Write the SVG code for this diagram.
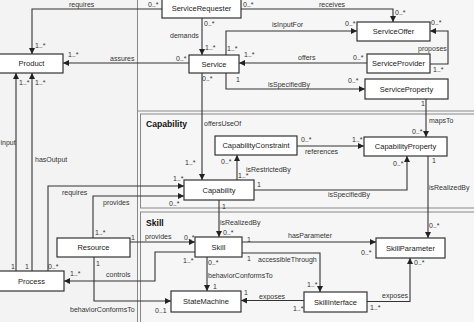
<svg xmlns="http://www.w3.org/2000/svg" width="474" height="322" viewBox="0 0 474 322">
<defs>
<marker id="a" viewBox="0 0 10 10" refX="10" refY="5" markerWidth="6" markerHeight="6" markerUnits="userSpaceOnUse" orient="auto"><path d="M0,0 L10,5 L0,10 z" fill="#222"/></marker>
<style>
.n rect{fill:#fff;stroke:#333;stroke-width:1.2}
.n text{font-family:"Liberation Sans",Arial,sans-serif;font-size:7.5px;fill:#222;text-anchor:middle}
#connectors path{fill:none;stroke:#333;stroke-width:1.1;marker-end:url(#a)}
.l{font-family:"Liberation Sans",Arial,sans-serif;font-size:7px;fill:#333}
.p{fill:#f6f6f6;stroke:#888;stroke-width:1}
.h{font-family:"Liberation Sans",Arial,sans-serif;font-size:8.6px;font-weight:bold;fill:#111}
</style>
</defs>
<rect x="0" y="0" width="474" height="322" fill="#f3f3f3"/>
<g id="panels">
<rect class="p" x="137.5" y="-2" width="340" height="330"/>
<line x1="137.5" y1="111" x2="474" y2="111" stroke="#888"/>
<rect class="p" x="140.5" y="114" width="340" height="94"/>
<rect class="p" x="140.5" y="212" width="340" height="120"/>
<text class="h" x="146" y="127">Capability</text>
<text class="h" x="146" y="226">Skill</text>
</g>
<g id="connectors">
<path d="M162,9 H32 V54"/>
<path d="M241,9 H393 V22"/>
<path d="M202,18 V55"/>
<path d="M189,63 H63"/>
<path d="M226,55 V31 H357"/>
<path d="M367,63 H239"/>
<path d="M430,64 H448 V31 H430"/>
<path d="M226,73 V89 H365"/>
<path d="M426,99 V137"/>
<path d="M202,73 V180"/>
<path d="M297,146 H364"/>
<path d="M237,180 V155"/>
<path d="M254,190 H407 V156"/>
<path d="M428,156 V238"/>
<path d="M219,200 V237"/>
<path d="M48,271 V186 H184"/>
<path d="M93,238 V196 H184"/>
<path d="M16,271 V73"/>
<path d="M32,271 V73"/>
<path d="M130,242 H195"/>
<path d="M195,252 H155 V281 H64"/>
<path d="M94,257 V301 H171"/>
<path d="M207,257 V291"/>
<path d="M242,242 H376"/>
<path d="M242,253 H320 V292"/>
<path d="M304,300.5 H241"/>
<path d="M367,301.5 H410 V258"/>
</g>
<g id="labels">
<text class="l" x="69" y="6.5">requires</text>
<text class="l" x="148" y="6.5">0..*</text>
<text class="l" x="35" y="48">1..*</text>
<text class="l" x="319" y="6.5">receives</text>
<text class="l" x="243" y="6.5">0..*</text>
<text class="l" x="395" y="15">0..*</text>
<text class="l" x="170" y="38">demands</text>
<text class="l" x="204" y="26">0..*</text>
<text class="l" x="205" y="50">1..*</text>
<text class="l" x="110" y="61">assures</text>
<text class="l" x="176" y="61">0..*</text>
<text class="l" x="68" y="57">1..*</text>
<text class="l" x="272" y="27">isInputFor</text>
<text class="l" x="227" y="51">1..*</text>
<text class="l" x="345" y="26">0..*</text>
<text class="l" x="298" y="60">offers</text>
<text class="l" x="244" y="57">1..*</text>
<text class="l" x="353" y="60">0..*</text>
<text class="l" x="418" y="51">proposes</text>
<text class="l" x="431" y="25">0..*</text>
<text class="l" x="433" y="72">1..*</text>
<text class="l" x="268" y="86.5">isSpecifiedBy</text>
<text class="l" x="236" y="82">1</text>
<text class="l" x="348" y="83">0..*</text>
<text class="l" x="421" y="106">1</text>
<text class="l" x="429" y="123">mapsTo</text>
<text class="l" x="412" y="134">0..*</text>
<text class="l" x="204" y="126">offersUseOf</text>
<text class="l" x="202" y="81">0..*</text>
<text class="l" x="185" y="165">1..*</text>
<text class="l" x="305" y="153.5">references</text>
<text class="l" x="301" y="142">0..*</text>
<text class="l" x="352" y="142">1..*</text>
<text class="l" x="246" y="172">isRestrictedBy</text>
<text class="l" x="221" y="164">0..*</text>
<text class="l" x="238" y="178">1..*</text>
<text class="l" x="328" y="197">isSpecifiedBy</text>
<text class="l" x="257" y="187">1</text>
<text class="l" x="393" y="166">0..*</text>
<text class="l" x="432" y="163">1</text>
<text class="l" x="429" y="190">isRealizedBy</text>
<text class="l" x="429" y="228">0..*</text>
<text class="l" x="220" y="225">isRealizedBy</text>
<text class="l" x="222" y="209">1</text>
<text class="l" x="223" y="235">0..*</text>
<text class="l" x="62" y="195">requires</text>
<text class="l" x="103" y="205">provides</text>
<text class="l" x="173" y="181">1..*</text>
<text class="l" x="169" y="206">0..*</text>
<text class="l" x="95" y="235">1..*</text>
<text class="l" x="48" y="269">0..*</text>
<text class="l" x="11" y="269">1</text>
<text class="l" x="25" y="269">1</text>
<text class="l" x="19" y="85">1..*</text>
<text class="l" x="35" y="85">1..*</text>
<text class="l" x="0.5" y="145">input</text>
<text class="l" x="35" y="162">hasOutput</text>
<text class="l" x="131" y="240">1</text>
<text class="l" x="145" y="239">provides</text>
<text class="l" x="184" y="240">0..*</text>
<text class="l" x="106" y="277">controls</text>
<text class="l" x="70" y="276">1..*</text>
<text class="l" x="183" y="263">1..*</text>
<text class="l" x="96" y="266">1</text>
<text class="l" x="70" y="312">behaviorConformsTo</text>
<text class="l" x="155" y="313">0..1</text>
<text class="l" x="208" y="278">behaviorConformsTo</text>
<text class="l" x="208" y="265">0..*</text>
<text class="l" x="213" y="289">1</text>
<text class="l" x="288" y="238">hasParameter</text>
<text class="l" x="247" y="242">1</text>
<text class="l" x="361" y="255">0..*</text>
<text class="l" x="258" y="262">accessibleThrough</text>
<text class="l" x="247" y="261">1</text>
<text class="l" x="307" y="287">1..*</text>
<text class="l" x="259" y="299">exposes</text>
<text class="l" x="244" y="295">1</text>
<text class="l" x="293" y="311">1..*</text>
<text class="l" x="382" y="298">exposes</text>
<text class="l" x="370" y="310">1..*</text>
<text class="l" x="414" y="265">0..*</text>
</g>
<g id="Product" class="n"><rect x="-1" y="54" width="64" height="19"/><text x="31.5" y="66">Product</text></g>
<g id="ServiceRequester" class="n"><rect x="162" y="-2" width="79" height="20"/><text x="201.5" y="11">ServiceRequester</text></g>
<g id="Service" class="n"><rect x="189" y="55" width="50" height="18"/><text x="214" y="66.5">Service</text></g>
<g id="ServiceOffer" class="n"><rect x="357" y="22" width="73" height="19"/><text x="393.5" y="34">ServiceOffer</text></g>
<g id="ServiceProvider" class="n"><rect x="367" y="54" width="63" height="19"/><text x="398.5" y="66">ServiceProvider</text></g>
<g id="ServiceProperty" class="n"><rect x="365" y="79" width="83" height="20"/><text x="406.5" y="91.5">ServiceProperty</text></g>
<g id="CapabilityConstraint" class="n"><rect x="215" y="136" width="82" height="19"/><text x="256" y="148">CapabilityConstraint</text></g>
<g id="Capability" class="n"><rect x="184" y="180" width="70" height="20"/><text x="219" y="192.5">Capability</text></g>
<g id="CapabilityProperty" class="n"><rect x="364" y="137" width="83" height="19"/><text x="405.5" y="149">CapabilityProperty</text></g>
<g id="Resource" class="n"><rect x="57" y="238" width="73" height="19"/><text x="93.5" y="250">Resource</text></g>
<g id="Process" class="n"><rect x="-1" y="271" width="65" height="20"/><text x="31.5" y="283.5">Process</text></g>
<g id="Skill" class="n"><rect x="195" y="237" width="47" height="20"/><text x="218.5" y="249.5">Skill</text></g>
<g id="StateMachine" class="n"><rect x="171" y="291" width="70" height="21"/><text x="206" y="304">StateMachine</text></g>
<g id="SkillParameter" class="n"><rect x="376" y="238" width="69" height="20"/><text x="410.5" y="250.5">SkillParameter</text></g>
<g id="SkillInterface" class="n"><rect x="304" y="292" width="63" height="20"/><text x="335.5" y="304.5">SkillInterface</text></g>
</svg>
